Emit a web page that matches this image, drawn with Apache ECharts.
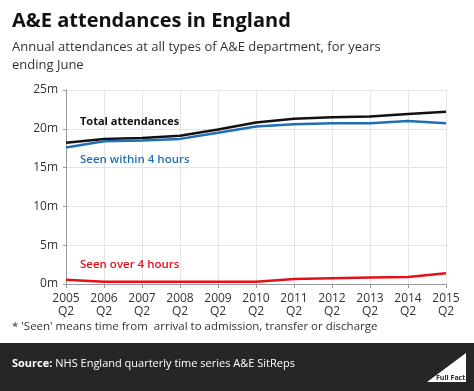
<!DOCTYPE html>
<html><head><meta charset="utf-8">
<script src="https://cdn.jsdelivr.net/npm/echarts@6/dist/echarts.min.js"></script>
<style>html,body{margin:0;padding:0;background:#fff}#c{width:474px;height:391px}</style>
</head><body><div id="c"></div>
<script>
var categories = ['2005\nQ2','2006\nQ2','2007\nQ2','2008\nQ2','2009\nQ2','2010\nQ2','2011\nQ2','2012\nQ2','2013\nQ2','2014\nQ2','2015\nQ2'];
var totalAttendances = [18.2, 18.7, 18.8, 19.1, 19.9, 20.8, 21.3, 21.5, 21.6, 21.9, 22.2];
var seenWithin4h = [17.6, 18.4, 18.5, 18.7, 19.5, 20.3, 20.6, 20.7, 20.7, 21.0, 20.7];
var seenOver4h = [0.55, 0.3, 0.3, 0.3, 0.3, 0.3, 0.65, 0.75, 0.85, 0.9, 1.4];
var yTicks = [0, 5, 10, 15, 20, 25];

var F = 'Open Sans';
var chart = echarts.init(document.getElementById('c'), null, {renderer:'canvas'});
chart.setOption({
  animation:false,
  textStyle:{fontFamily:F},
  grid:{left:66, right:28, top:90, bottom:107},
  xAxis:{type:'category', data:categories, boundaryGap:false,
    axisLine:{lineStyle:{color:'#999', width:1}},
    axisTick:{show:true, length:4, interval:0, lineStyle:{color:'#999'}},
    axisLabel:{interval:0, color:'#333', fontSize:12, lineHeight:13, fontFamily:F, margin:8, align:'center',
      formatter:function(v){return v.split('\n').map(function(s){return '{a|'+s+'}';}).join('\n');},
      rich:{a:{align:'center', fontSize:12, lineHeight:13, color:'#333', fontFamily:F}}},
    splitLine:{show:true, interval:0, lineStyle:{color:'#e4e4e4'}}},
  yAxis:{type:'value', min:0, max:25, interval:5,
    axisLine:{show:true, lineStyle:{color:'#999'}},
    axisTick:{show:true, length:3, lineStyle:{color:'#999'}},
    axisLabel:{color:'#333', fontSize:12, fontFamily:F, margin:8,
      formatter:function(v){return yTicks.indexOf(v)>=0 ? v+'m' : '';}},
    splitLine:{show:true, lineStyle:{color:'#e4e4e4'}}},
  series:[
    {name:'Total attendances', type:'line', data:totalAttendances, symbol:'none',
      lineStyle:{color:'#111', width:2.5}},
    {name:'Seen within 4 hours', type:'line', data:seenWithin4h, symbol:'none',
      lineStyle:{color:'#1f6fb5', width:2.5}},
    {name:'Seen over 4 hours', type:'line', data:seenOver4h, symbol:'none',
      lineStyle:{color:'#e3101a', width:2.5}}
  ],
  graphic:[
    {type:'text', z:100, left:12, top:11, style:{text:'A&E attendances in England', fontFamily:F, fontSize:20, fontWeight:'bold', fill:'#111'}},
    {type:'text', z:100, left:12, top:38, style:{text:'Annual attendances at all types of A&E department, for years\nending June', fontFamily:F, fontSize:13, lineHeight:18, fill:'#333'}},
    {type:'text', z:100, left:80, top:116, style:{text:'Total attendances', fontFamily:F, fontSize:11, fontWeight:'bold', fill:'#111'}},
    {type:'text', z:100, left:80, top:154, style:{text:'Seen within 4 hours', fontFamily:F, fontSize:11.5, fontWeight:600, fill:'#1f6fb5'}},
    {type:'text', z:100, left:80, top:259, style:{text:'Seen over 4 hours', fontFamily:F, fontSize:11.5, fontWeight:600, fill:'#e3101a'}},
    {type:'text', z:100, left:12, top:321, style:{text:"* 'Seen' means time from  arrival to admission, transfer or discharge", fontFamily:F, fontSize:11.5, fill:'#333'}},
    {type:'rect', z:100, left:0, top:343, shape:{width:474, height:48}, style:{fill:'#262626'}},
    {type:'text', z:101, left:12, top:358, style:{rich:{b:{fontFamily:F, fontSize:11, fontWeight:'bold', fill:'#fff'}, n:{fontFamily:F, fontSize:11, fill:'#fff'}}, text:'{b|Source:}{n| NHS England quarterly time series A&E SitReps}'}},
    {type:'polygon', z:101, shape:{points:[[427,382],[466,353],[466,382]]}, style:{fill:'#fff'}},
    {type:'text', z:102, left:436, top:374, style:{text:'Full Fact', fontFamily:F, fontSize:7, fontWeight:'bold', fill:'#262626'}}
  ]
});
</script></body></html>
